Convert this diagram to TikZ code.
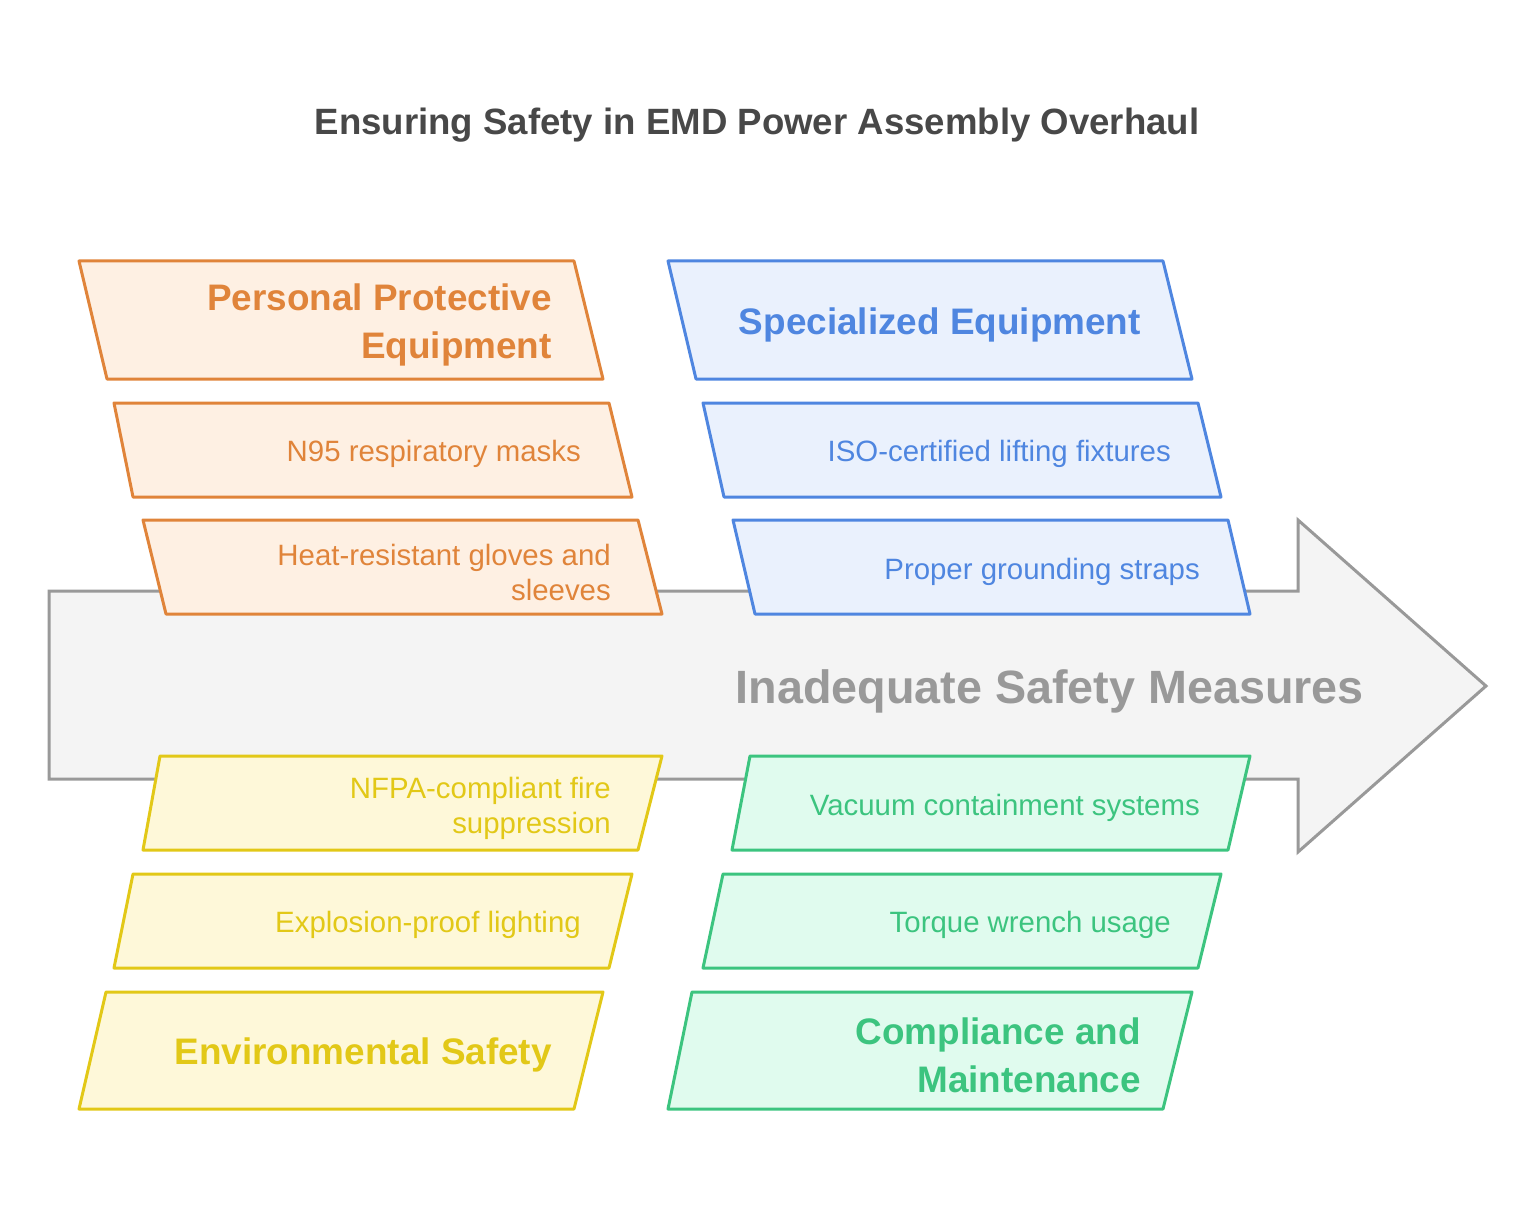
\documentclass[tikz,border=0pt]{standalone}
\usepackage{fontspec}
\setmainfont{Liberation Sans}
\definecolor{orS}{HTML}{E0843A}
\definecolor{orF}{HTML}{FEF0E3}
\definecolor{blS}{HTML}{4F86E0}
\definecolor{blF}{HTML}{EAF1FD}
\definecolor{yeS}{HTML}{E2C817}
\definecolor{yeF}{HTML}{FEF8D9}
\definecolor{grS}{HTML}{3CC47F}
\definecolor{grF}{HTML}{E0FBEE}
\definecolor{arS}{HTML}{999999}
\definecolor{arF}{HTML}{F4F4F4}
\definecolor{ttl}{HTML}{484848}
\tikzset{
  shp/.style={line width=3pt, line join=round},
  item/.style={anchor=east, inner sep=0pt, align=right, font=\fontsize{29.4}{35}\selectfont},
  head/.style={anchor=east, inner sep=0pt, align=right, font=\fontsize{36.9}{48}\selectfont\bfseries},
}
\begin{document}
\begin{tikzpicture}[x=1pt,y=-1pt]
\useasboundingbox (0,0) rectangle (1536,1206);
% title
\node[font=\fontsize{36.6}{44}\selectfont\bfseries, text=ttl, inner sep=0pt] (title) at (757,125) {Ensuring Safety in EMD Power Assembly Overhaul};
% arrow
\draw[shp, draw=arS, fill=arF, line join=miter] (49,591) -- (1298,591) -- (1298,520) -- (1486,686) -- (1298,852) -- (1298,779) -- (49,779) -- cycle;
\node[anchor=east, inner sep=0pt, text=arS, font=\fontsize{46.7}{50}\selectfont\bfseries] (main) at (1364,691) {Inadequate Safety Measures};
% orange
\draw[shp, draw=orS, fill=orF] (79,261) -- (574,261) -- (603,379) -- (107,379) -- cycle;
\draw[shp, draw=orS, fill=orF] (114,403) -- (609,403) -- (632,497) -- (133,497) -- cycle;
\draw[shp, draw=orS, fill=orF] (143,520) -- (638,520) -- (662,614) -- (166,614) -- cycle;
\node[head, text=orS] (ppe) at (552,325) {Personal Protective\\Equipment};
\node[item, text=orS] (n95) at (581,454) {N95 respiratory masks};
\node[item, text=orS] (heat) at (611,572) {Heat-resistant gloves and\\sleeves};
% blue
\draw[shp, draw=blS, fill=blF] (668,261) -- (1163,261) -- (1192,379) -- (696,379) -- cycle;
\draw[shp, draw=blS, fill=blF] (703,403) -- (1198,403) -- (1221,497) -- (724,497) -- cycle;
\draw[shp, draw=blS, fill=blF] (733,520) -- (1228,520) -- (1250,614) -- (755,614) -- cycle;
\node[head, text=blS] (spec) at (1141,325) {Specialized Equipment};
\node[item, text=blS] (iso) at (1171,454) {ISO-certified lifting fixtures};
\node[item, text=blS] (strap) at (1200,572) {Proper grounding straps};
% yellow
\draw[shp, draw=yeS, fill=yeF] (160,756) -- (662,756) -- (638,850) -- (143,850) -- cycle;
\draw[shp, draw=yeS, fill=yeF] (133,874) -- (632,874) -- (609,968) -- (114,968) -- cycle;
\draw[shp, draw=yeS, fill=yeF] (106,992) -- (603,992) -- (574,1109) -- (79,1109) -- cycle;
\node[item, text=yeS] (nfpa) at (611,808) {NFPA-compliant fire\\suppression};
\node[item, text=yeS] (expl) at (581,925) {Explosion-proof lighting};
\node[head, text=yeS] (env) at (552,1055) {Environmental Safety};
% green
\draw[shp, draw=grS, fill=grF] (750,756) -- (1250,756) -- (1228,850) -- (732,850) -- cycle;
\draw[shp, draw=grS, fill=grF] (723,874) -- (1221,874) -- (1198,968) -- (703,968) -- cycle;
\draw[shp, draw=grS, fill=grF] (692,992) -- (1192,992) -- (1163,1109) -- (668,1109) -- cycle;
\node[item, text=grS] (vac) at (1200,808) {Vacuum containment systems};
\node[item, text=grS] (torq) at (1171,925) {Torque wrench usage};
\node[head, text=grS] (comp) at (1141,1055) {Compliance and\\Maintenance};
\end{tikzpicture}
\end{document}
